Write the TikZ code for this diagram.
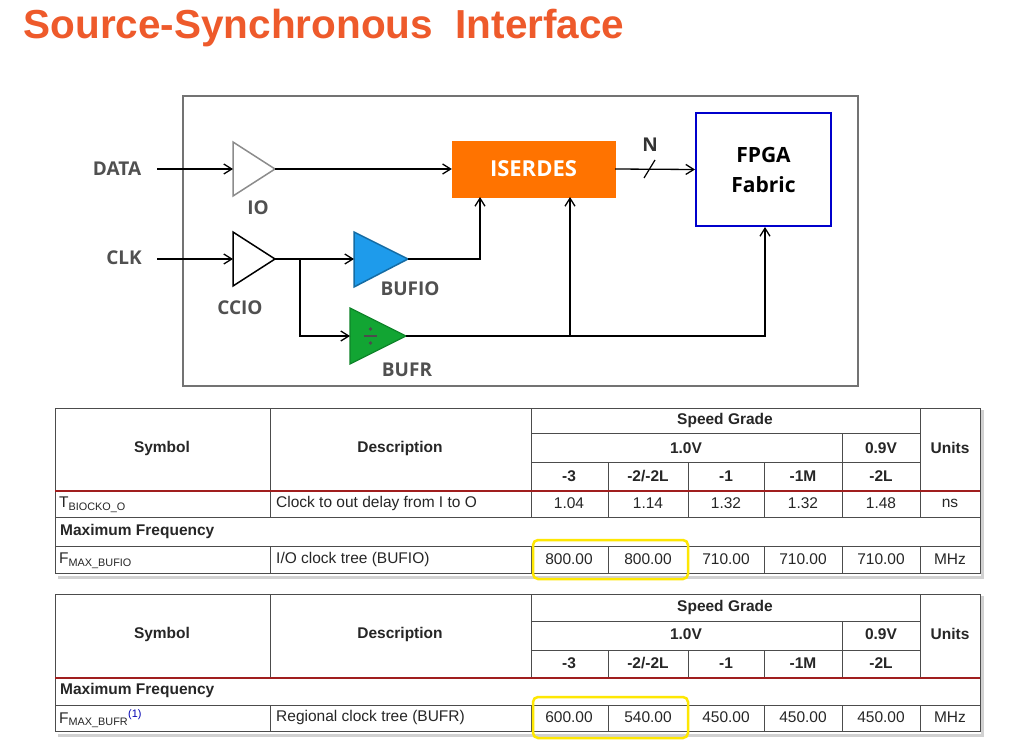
\documentclass[tikz,border=0pt]{standalone}
\usepackage{fontspec}
\setmainfont{Liberation Sans}
\newfontfamily\dfont{Open Sans}
\usetikzlibrary{arrows.meta}
\definecolor{ttl}{HTML}{EE5A2B}
\definecolor{orng}{HTML}{FF7300}
\definecolor{bluebuf}{HTML}{1E9BEB}
\definecolor{greenbuf}{HTML}{12A533}
\definecolor{redl}{HTML}{A01E1E}
\definecolor{lbl}{HTML}{505050}
\begin{document}
\begin{tikzpicture}[x=1pt,y=-1pt,
  wire/.style={line width=1.3pt},
  arr/.style={wire,-{Straight Barb[length=8pt,width=10pt,line width=1.3pt]}},
  lab/.style={font=\dfont\bfseries\fontsize{19}{24}\selectfont,text=lbl},
  tl/.style={line width=0.8pt,black!70},
  tc/.style={font=\fontsize{15.5}{18}\selectfont,text=black!85,inner sep=0},
  tb/.style={tc,font=\bfseries\fontsize{15.5}{18}\selectfont},
  hl/.style={draw=yellow!90!orange,line width=2.5pt,rounded corners=5pt}]
\useasboundingbox (0,0) rectangle (1010,755);
\fill[white] (0,0) rectangle (1010,755);
\node[anchor=west,font=\bfseries\fontsize{40.5}{44}\selectfont,text=ttl] (title) at (20,28) {Source-Synchronous\ \ Interface};
% diagram frame
\draw[line width=2pt,black!55] (183,96) rectangle (858,386);
\node[lab] (data) at (117,169) {DATA};
\node[lab] (clk) at (124,258) {CLK};
\coordinate (datae) at (157,169);
\coordinate (clke) at (157,259);
\coordinate (io) at (233,169);
\coordinate (iotip) at (275,169);
\draw[line width=1.5pt,black!45] (233,142) -- (275,169) -- (233,196) -- cycle;
\node[lab] at (258,208) {IO};
\coordinate (cc) at (233,259);
\coordinate (cctip) at (275,259);
\draw[line width=1.5pt,black] (233,232) -- (275,259) -- (233,286) -- cycle;
\node[lab] at (240,308) {CCIO};
\coordinate (bfio) at (354,259);
\coordinate (bfiotip) at (408,259);
\draw[line width=1.5pt,fill=bluebuf,draw=bluebuf!70!black] (354,232) -- (408,259) -- (354,287) -- cycle;
\node[lab] at (410,289) {BUFIO};
\coordinate (bfr) at (350,336);
\coordinate (bfrtip) at (406,336);
\draw[line width=1.2pt,fill=greenbuf,draw=greenbuf!80!black] (350,308) -- (406,336) -- (350,364) -- cycle;
\draw[line width=2.5pt,black!70] (364,336) -- (377,336);
\fill[black!70] (370.5,329) circle (1.8pt) (370.5,343) circle (1.8pt);
\node[lab] at (407,370) {BUFR};
\node[draw=orng,fill=orng,minimum width=163pt,minimum height=56pt,inner sep=0,
  font=\dfont\bfseries\fontsize{22}{26}\selectfont,text=white] (iser) at (533.5,169) {ISERDES};
\node[draw=blue!80!black,line width=2pt,fill=white,minimum width=135pt,minimum height=113pt,inner sep=0,align=center,
  font=\dfont\bfseries\fontsize{21}{30}\selectfont,text=black] (fpga) at (763.5,169.5) {FPGA\\Fabric};
\draw[arr] (datae) -- (io);
\draw[arr] (clke) -- (cc);
\draw[arr] (iotip) -- (iser.west);
\draw[arr] (iser.east) -- (fpga.west);
\node[lab,text=black!80] (n) at (650,145) {N};
\draw[line width=1.2pt] (644,178) -- (655,160);
\draw[arr] (cctip) -- (bfio);
\draw[arr] (300,259) -- (300,336) -- (bfr);
\draw[arr] (bfiotip) -- (480,259) -- (480,197);
\draw[arr] (bfrtip) -- (765,336) -- (fpga.south -| 765,0);
\draw[arr] (570,336) -- (570,197);
% ===== table 1 =====
\fill[black!18] (58,576) rectangle (984,579);
\fill[black!18] (981,410) rectangle (984,579);
\draw[tl] (55,408) rectangle (980,573);
\foreach \x in {270,531,920} \draw[tl] (\x,408) -- (\x,517);
\foreach \x in {608,688,764} \draw[tl] (\x,462) -- (\x,517);
\draw[tl] (842,433) -- (842,517);
\draw[tl] (531,433) -- (920,433);
\draw[tl] (531,462) -- (920,462);
\draw[tl] (55,517) -- (980,517);
\draw[tl] (55,546) -- (980,546);
\foreach \x in {270,531,608,688,764,842,920} \draw[tl] (\x,546) -- (\x,573);
\draw[redl,line width=2.5pt] (55,491) -- (980,491);
\node[tb] at (725,420) {Speed Grade};
\node[tb] at (686,448) {1.0V};
\node[tb] at (881,448) {0.9V};
\node[tb] at (162,448) {Symbol};
\node[tb] at (400,448) {Description};
\node[tb] at (950,448) {Units};
\foreach \x/\t in {569/{-3},648/{-2/-2L},726/{-1},803/{-1M},881/{-2L}} \node[tb] at (\x,476) {\t};
\node[tc,anchor=west] at (59,505) {T\textsubscript{BIOCKO\_O}};
\node[tc,anchor=west] at (276,503) {Clock to out delay from I to O};
\foreach \x/\t in {569/1.04,648/1.14,726/1.32,803/1.32,881/1.48,950/ns} \node[tc] at (\x,503) {\t};
\node[tb,anchor=west] at (60,531) {Maximum Frequency};
\node[tc,anchor=west] at (59,561) {F\textsubscript{MAX\_BUFIO}};
\node[tc,anchor=west] at (276,559) {I/O clock tree (BUFIO)};
\foreach \x/\t in {569/800.00,648/800.00,726/710.00,803/710.00,881/710.00,950/MHz} \node[tc] at (\x,559) {\t};
\draw[hl] (533,540) rectangle (688,579);
% ===== table 2 =====
\fill[black!18] (58,734) rectangle (984,737);
\fill[black!18] (981,596) rectangle (984,737);
\draw[tl] (55,594) rectangle (980,731);
\foreach \x in {270,531,920} \draw[tl] (\x,594) -- (\x,678);
\foreach \x in {608,688,764} \draw[tl] (\x,650) -- (\x,678);
\draw[tl] (842,621) -- (842,678);
\draw[tl] (531,621) -- (920,621);
\draw[tl] (531,650) -- (920,650);
\draw[tl] (55,705) -- (980,705);
\foreach \x in {270,531,608,688,764,842,920} \draw[tl] (\x,705) -- (\x,731);
\draw[redl,line width=2.5pt] (55,678) -- (980,678);
\node[tb] at (725,607) {Speed Grade};
\node[tb] at (686,634) {1.0V};
\node[tb] at (881,634) {0.9V};
\node[tb] at (162,634) {Symbol};
\node[tb] at (400,634) {Description};
\node[tb] at (950,634) {Units};
\foreach \x/\t in {569/{-3},648/{-2/-2L},726/{-1},803/{-1M},881/{-2L}} \node[tb] at (\x,663) {\t};
\node[tb,anchor=west] at (60,690) {Maximum Frequency};
\node[tc,anchor=west] at (59,719) {F\textsubscript{MAX\_BUFR}\textsuperscript{\textcolor{blue!70!black}{(1)}}};
\node[tc,anchor=west] at (276,717) {Regional clock tree (BUFR)};
\foreach \x/\t in {569/600.00,648/540.00,726/450.00,803/450.00,881/450.00,950/MHz} \node[tc] at (\x,717) {\t};
\draw[hl] (533,697) rectangle (688,738);
\end{tikzpicture}
\end{document}
